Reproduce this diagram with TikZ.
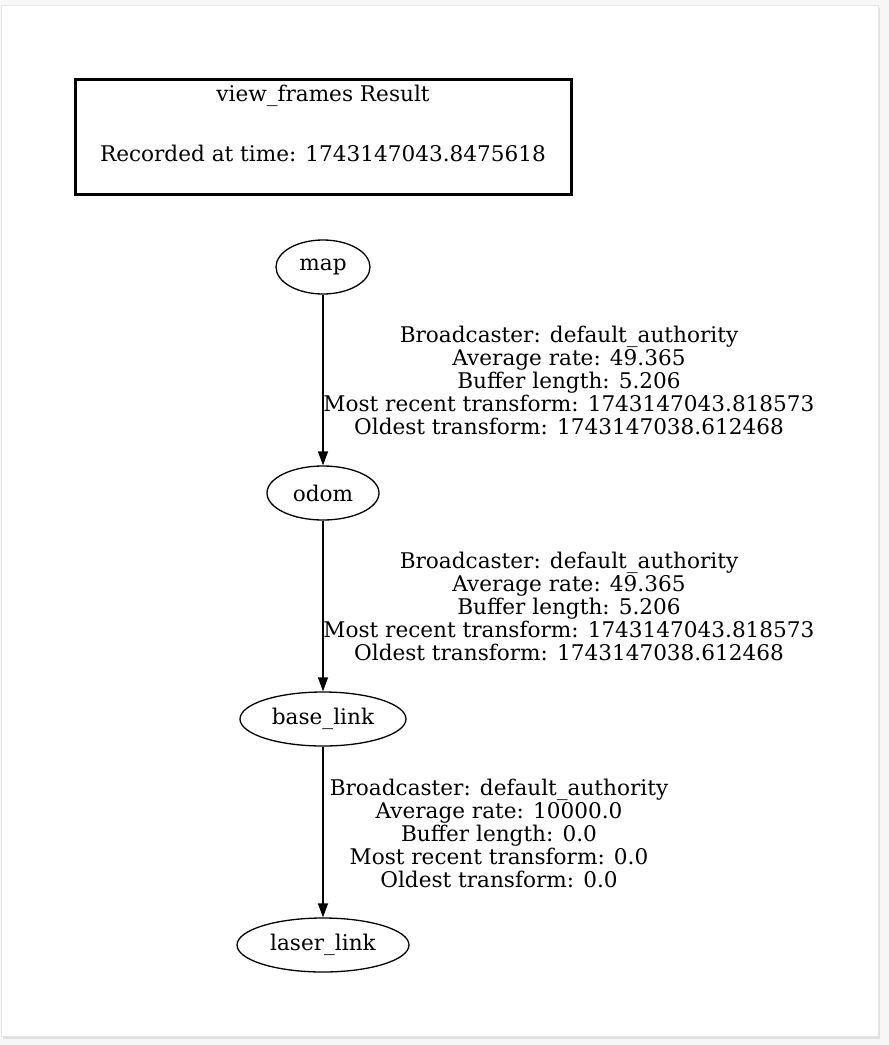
\documentclass[tikz,border=0pt]{standalone}
\usepackage{fontspec}
\setmainfont{DejaVu Serif}
\usetikzlibrary{shapes.geometric,arrows.meta}
\begin{document}
\begin{tikzpicture}[x=1pt,y=-1pt,
  frame/.style={ellipse,draw,line width=1.3pt,inner sep=0pt,minimum height=54pt,font=\fontsize{21.6}{23}\selectfont},
  lab/.style={align=center,inner sep=0pt,font=\fontsize{21.6}{23}\selectfont},
  txt/.style={inner sep=0pt,font=\fontsize{21.6}{23}\selectfont},
  edge/.style={line width=1.3pt,-{Triangle[length=14pt,width=10pt]}}]
\useasboundingbox (0,0) rectangle (889,1045);
\fill[black!3] (0,0) rectangle (889,1045);
\fill[black!12] (3,8) rectangle (880,1039);
\fill[white,draw=black!10,line width=0.8pt] (1,5) rectangle (878,1036);
\node[draw,line width=3pt,minimum width=496pt,minimum height=115pt,inner sep=0pt] (title) at (323,136.5) {};
\node[txt] (t1) at (323,96) {view\_frames Result};
\node[txt] (t2) at (323,153) {Recorded at time: 1743147043.8475618};
\node[frame,minimum width=94pt] (map) at (323,267) {map};
\node[frame,minimum width=112pt] (odom) at (323,493) {odom};
\node[frame,minimum width=166pt] (base) at (323,719) {base\_link};
\node[frame,minimum width=172pt] (laser) at (323,945) {laser\_link};
\draw[edge] (map) -- (odom);
\draw[edge] (odom) -- (base);
\draw[edge] (base) -- (laser);
\node[lab] (l1) at (569,380) {Broadcaster: default\_authority\\Average rate: 49.365\\Buffer length: 5.206\\Most recent transform: 1743147043.818573\\Oldest transform: 1743147038.612468};
\node[lab] (l2) at (569,606) {Broadcaster: default\_authority\\Average rate: 49.365\\Buffer length: 5.206\\Most recent transform: 1743147043.818573\\Oldest transform: 1743147038.612468};
\node[lab] (l3) at (499,833) {Broadcaster: default\_authority\\Average rate: 10000.0\\Buffer length: 0.0\\Most recent transform: 0.0\\Oldest transform: 0.0};
\end{tikzpicture}
\end{document}
